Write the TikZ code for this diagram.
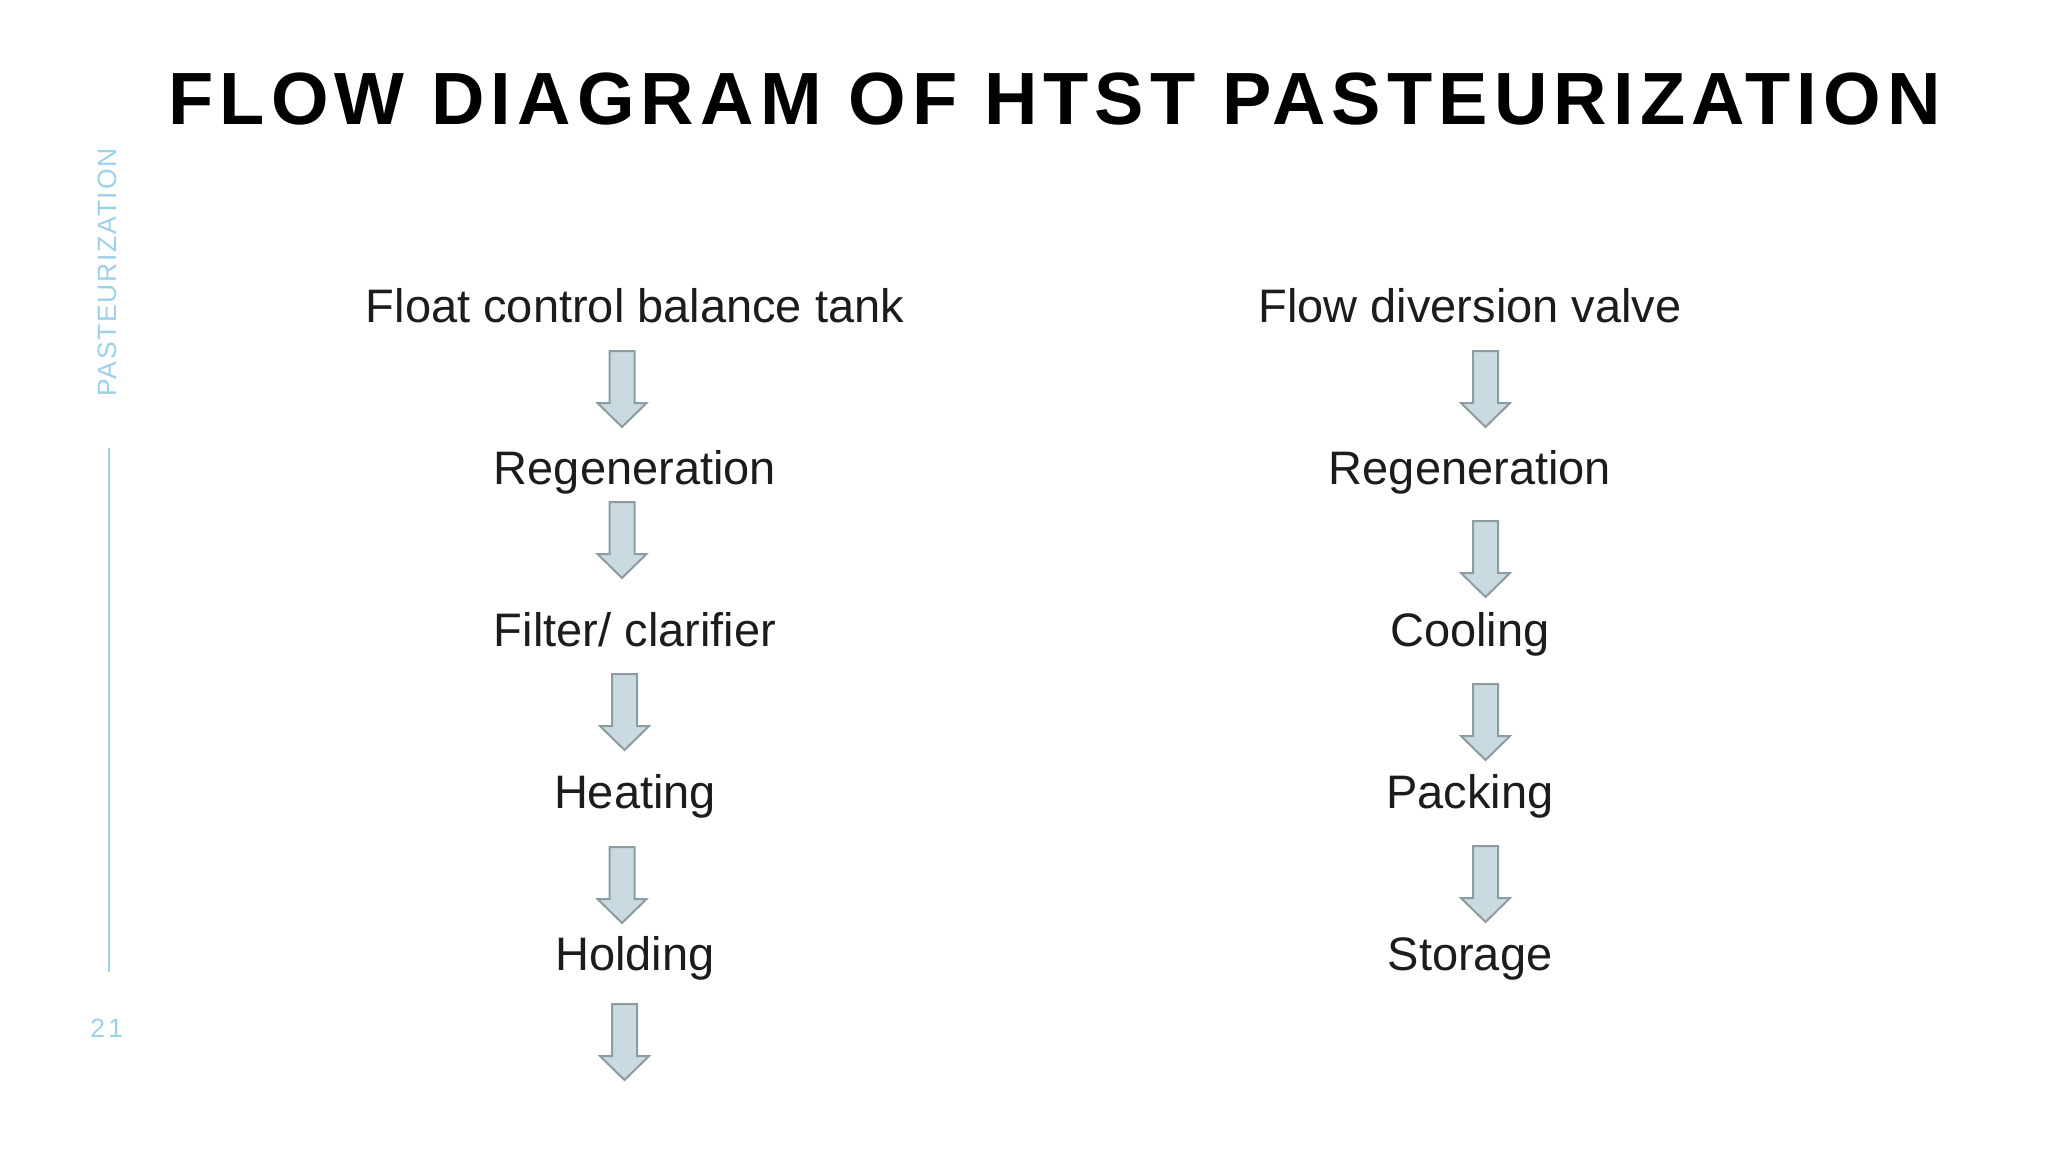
\documentclass[tikz,border=0pt]{standalone}
\usepackage{fontspec}
\setmainfont{Liberation Sans}
\newfontfamily\titlefont{Liberation Sans}[LetterSpace=8.3]
\newfontfamily\sidefont{Liberation Sans}[LetterSpace=6.5]
\newfontfamily\numfont{Liberation Sans}[LetterSpace=12]
\definecolor{sideblue}{HTML}{9DD0EA}
\definecolor{arrowfill}{HTML}{C9DBE1}
\definecolor{arrowline}{HTML}{8C9CA1}
\definecolor{steptext}{HTML}{1C1C1C}
\tikzset{
  steplabel/.style={anchor=base,inner sep=0pt,text=steptext,font=\fontsize{23.5pt}{27pt}\selectfont},
  flowarrow/.style={draw=arrowline,fill=arrowfill,line width=1pt,line join=miter},
}
\begin{document}
\begin{tikzpicture}[x=0.5pt,y=-0.5pt]
  \useasboundingbox (0,0) rectangle (2048,1152);
  % title
  \node[anchor=base west,inner sep=0pt,font=\titlefont\bfseries\fontsize{37pt}{40pt}\selectfont] (title) at (168,124) {FLOW DIAGRAM OF HTST PASTEURIZATION};
  % side bar
  \node[rotate=90,anchor=base west,inner sep=0pt,text=sideblue,font=\sidefont\fontsize{13.25pt}{15pt}\selectfont] (side) at (116,397) {PASTEURIZATION};
  \draw[sideblue,line width=1pt] (108.5,448) coordinate (bartop) -- (108.5,972) coordinate (barbot);
  \node[anchor=base west,inner sep=0pt,text=sideblue,font=\numfont\fontsize{13.25pt}{15pt}\selectfont] (page) at (90,1037) {21};
  % left column
  \foreach[count=\i,evaluate={162*\i+160} as \y] \t in {Float control balance tank,Regeneration,Filter/ clarifier,Heating,Holding} {
    \node[steplabel] (left\i) at (635,\y) {\t};
  }
  % right column
  \foreach[count=\i,evaluate={162*\i+160} as \y] \t in {Flow diversion valve,Regeneration,Cooling,Packing,Storage} {
    \node[steplabel] (right\i) at (1470,\y) {\t};
  }
  % arrows
  \foreach \x/\y in {622/351,622/502,624.5/674,622/847,624.5/1004,1485.5/351,1485.5/521,1485.5/684,1485.5/846} {
    \draw[flowarrow] (\x-12.5,\y) -- ++(25,0) -- ++(0,52) -- ++(12,0) -- ++(-24.5,24) -- ++(-24.5,-24) -- ++(12,0) -- cycle;
  }
\end{tikzpicture}
\end{document}
